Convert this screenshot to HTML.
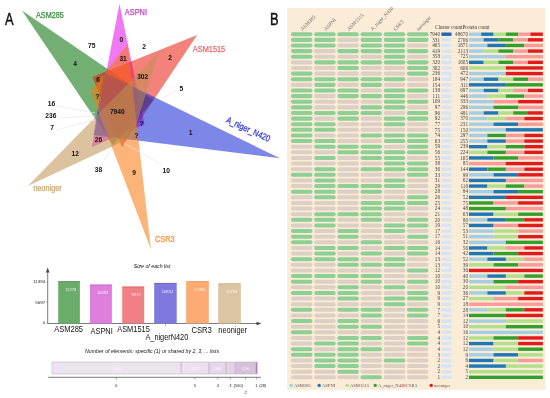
<!DOCTYPE html>
<html><head><meta charset="utf-8"><style>
html,body{margin:0;padding:0;background:#fff;}
body{width:550px;height:398px;overflow:hidden;}
svg{display:block;filter:blur(0.35px);}
text{font-family:"Liberation Sans",sans-serif;}
.cl{font-family:"Liberation Serif",serif;font-size:5.2px;fill:#6b6460;}
.hd{font-family:"Liberation Serif",serif;font-size:5.05px;fill:#3d3a38;}
.nm{font-family:"Liberation Serif",serif;font-size:5.2px;fill:#45403d;text-anchor:end;}
.lg{font-family:"Liberation Serif",serif;font-size:4.6px;fill:#5e5754;}
.vn{font-size:7.3px;font-weight:bold;fill:#111;text-anchor:middle;}
.vl{font-size:8.2px;stroke-width:0.25px;paint-order:stroke;}
.ti{font-size:5.9px;font-style:italic;fill:#111;text-anchor:middle;}
.tk{font-size:4.4px;fill:#222;text-anchor:end;}
.bv{font-size:4.1px;fill:#fff;fill-opacity:0.85;text-anchor:end;}
.xl{font-size:8.4px;fill:#111;text-anchor:middle;}
.sv{font-size:3.6px;fill:#fff;text-anchor:middle;}
.bl{font-size:4px;fill:#222;text-anchor:middle;}
.pl{font-size:16.9px;fill:#111;stroke:#111;stroke-width:0.45px;stroke-linejoin:round;}
</style></head>
<body><svg width="550" height="398" viewBox="0 0 550 398">
<rect width="550" height="398" fill="#fff"/>
<text x="5.0" y="24.8" class="pl" textLength="8.6" lengthAdjust="spacingAndGlyphs">A</text>
<text x="269.9" y="24.5" class="pl" textLength="8.6" lengthAdjust="spacingAndGlyphs">B</text>
<polygon points="21.9,10.6 113,145 153.4,100.2" fill="rgb(0,110,0)" fill-opacity="0.55"/>
<polygon points="119.5,3.8 91.8,147 144.5,124.5" fill="rgb(228,10,228)" fill-opacity="0.55"/>
<polygon points="197.2,35 92.3,77 122,147" fill="rgb(231,28,13)" fill-opacity="0.55"/>
<polygon points="280,158.3 103.8,72.4 93.6,135" fill="rgb(19,37,213)" fill-opacity="0.55"/>
<polygon points="151,249.6 90.5,91 127.6,44.6" fill="rgb(250,119,10)" fill-opacity="0.55"/>
<polygon points="27.8,186.1 158.6,52.6 132.5,137" fill="rgb(191,146,82)" fill-opacity="0.55"/>
<line x1="94" y1="50" x2="108" y2="66" stroke="#e6e6e6" stroke-width="0.7"/>
<line x1="141" y1="49" x2="133" y2="61" stroke="#e6e6e6" stroke-width="0.7"/>
<line x1="176" y1="90.5" x2="161.5" y2="99" stroke="#e6e6e6" stroke-width="0.7"/>
<line x1="56" y1="106" x2="95" y2="113" stroke="#e6e6e6" stroke-width="0.7"/>
<line x1="57" y1="118" x2="95" y2="116" stroke="#e6e6e6" stroke-width="0.7"/>
<line x1="56" y1="130" x2="95" y2="120" stroke="#e6e6e6" stroke-width="0.7"/>
<line x1="101" y1="165" x2="112" y2="149" stroke="#e6e6e6" stroke-width="0.7"/>
<line x1="162" y1="165" x2="124" y2="143" stroke="#e6e6e6" stroke-width="0.7"/>
<text x="91.8" y="48.4" class="vn" textLength="7.4" lengthAdjust="spacingAndGlyphs">75</text>
<text x="75" y="65.7" class="vn" textLength="3.7" lengthAdjust="spacingAndGlyphs">4</text>
<text x="121.4" y="42.2" class="vn" textLength="3.7" lengthAdjust="spacingAndGlyphs">0</text>
<text x="144" y="48.5" class="vn" textLength="3.7" lengthAdjust="spacingAndGlyphs">2</text>
<text x="123.1" y="61.1" class="vn" textLength="7.4" lengthAdjust="spacingAndGlyphs">31</text>
<text x="170.2" y="60.1" class="vn" textLength="3.7" lengthAdjust="spacingAndGlyphs">2</text>
<text x="142.7" y="79.4" class="vn" textLength="11.1" lengthAdjust="spacingAndGlyphs">302</text>
<text x="98.2" y="81.5" class="vn" textLength="3.7" lengthAdjust="spacingAndGlyphs">6</text>
<text x="97.4" y="98.8" class="vn">?</text>
<text x="117.3" y="114.4" class="vn" textLength="14.8" lengthAdjust="spacingAndGlyphs">7940</text>
<text x="181.3" y="91.3" class="vn" textLength="3.7" lengthAdjust="spacingAndGlyphs">5</text>
<text x="51.5" y="106.3" class="vn" textLength="7.4" lengthAdjust="spacingAndGlyphs">16</text>
<text x="50.9" y="118.1" class="vn" textLength="11.1" lengthAdjust="spacingAndGlyphs">236</text>
<text x="52.2" y="129.8" class="vn" textLength="3.7" lengthAdjust="spacingAndGlyphs">7</text>
<text x="141.8" y="125.5" class="vn">?</text>
<text x="136.5" y="137.6" class="vn">?</text>
<text x="190.5" y="134.9" class="vn" textLength="3.7" lengthAdjust="spacingAndGlyphs">1</text>
<text x="98.5" y="142.3" class="vn" textLength="7.4" lengthAdjust="spacingAndGlyphs">26</text>
<text x="75.3" y="155.8" class="vn" textLength="7.4" lengthAdjust="spacingAndGlyphs">12</text>
<text x="98.5" y="171.9" class="vn" textLength="7.4" lengthAdjust="spacingAndGlyphs">38</text>
<text x="134" y="174.6" class="vn" textLength="3.7" lengthAdjust="spacingAndGlyphs">9</text>
<text x="166.3" y="172.5" class="vn" textLength="7.4" lengthAdjust="spacingAndGlyphs">10</text>
<text x="36.0" y="17.8" class="vl" fill="#3c8d3c" stroke="#3c8d3c" textLength="27.9" lengthAdjust="spacingAndGlyphs">ASM285</text>
<text x="124.8" y="15.1" class="vl" fill="#c53fc5" stroke="#c53fc5" textLength="22.2" lengthAdjust="spacingAndGlyphs">ASPNI</text>
<text x="192.8" y="51.8" class="vl" fill="#ea6a72" stroke="#ea6a72" textLength="32.4" lengthAdjust="spacingAndGlyphs">ASM1515</text>
<text x="33.2" y="191.2" class="vl" fill="#c9a86e" stroke="#c9a86e" textLength="28.6" lengthAdjust="spacingAndGlyphs">neoniger</text>
<text x="154.9" y="242" class="vl" fill="#f98f3c" stroke="#f98f3c" textLength="19.7" lengthAdjust="spacingAndGlyphs">CSR3</text>
<text x="225.4" y="122.0" class="vl" fill="#2b36d6" stroke="#2b36d6" style="font-size:9px" textLength="47.5" lengthAdjust="spacingAndGlyphs" transform="rotate(25 225.4 122.0)">A_niger_N420</text>
<text x="152.1" y="267.8" class="ti" textLength="36.6" lengthAdjust="spacingAndGlyphs">Size of each list</text>
<line x1="47.7" y1="271" x2="47.7" y2="323.5" stroke="#444" stroke-width="0.7"/>
<polygon points="45.9,272.5 49.5,272.5 47.7,267.6" fill="#444"/>
<line x1="47.7" y1="323.5" x2="257" y2="323.5" stroke="#444" stroke-width="0.7"/>
<polygon points="256.5,321.7 256.5,325.3 261.5,323.5" fill="#444"/>
<text x="45.1" y="283.0" class="tk">11394</text>
<line x1="46.7" y1="281.7" x2="47.7" y2="281.7" stroke="#444" stroke-width="0.5"/>
<text x="45.1" y="303.6" class="tk">5697</text>
<line x1="46.7" y1="302.3" x2="47.7" y2="302.3" stroke="#444" stroke-width="0.5"/>
<text x="45.1" y="324.3" class="tk">0</text>
<line x1="46.7" y1="323" x2="47.7" y2="323" stroke="#444" stroke-width="0.5"/>
<rect x="58.2" y="281.3" width="21.7" height="42.2" fill="#6aad6a"/>
<line x1="58.2" y1="281.6" x2="79.9" y2="281.6" stroke="#4e8f4e" stroke-width="0.8"/>
<text x="76.4" y="290.90000000000003" class="bv">11278</text>
<rect x="90" y="284.7" width="21.9" height="38.8" fill="#de7fde"/>
<line x1="90" y1="285.0" x2="111.9" y2="285.0" stroke="#c763c7" stroke-width="0.8"/>
<text x="108.4" y="294.3" class="bv">10493</text>
<rect x="122.2" y="286.7" width="22.0" height="36.8" fill="#f17f86"/>
<line x1="122.2" y1="287.0" x2="144.2" y2="287.0" stroke="#e06068" stroke-width="0.8"/>
<text x="140.7" y="296.3" class="bv">9917</text>
<rect x="154.2" y="283.1" width="22.5" height="40.4" fill="#7f78df"/>
<line x1="154.2" y1="283.40000000000003" x2="176.7" y2="283.40000000000003" stroke="#6660cc" stroke-width="0.8"/>
<text x="173.2" y="292.70000000000005" class="bv">10852</text>
<rect x="186.1" y="281.2" width="22.7" height="42.3" fill="#fcac72"/>
<line x1="186.1" y1="281.5" x2="208.8" y2="281.5" stroke="#f59a5a" stroke-width="0.8"/>
<text x="205.3" y="290.8" class="bv">11394</text>
<rect x="218.2" y="283.5" width="22.6" height="40.0" fill="#dcc5a2"/>
<line x1="218.2" y1="283.8" x2="240.8" y2="283.8" stroke="#c9b08a" stroke-width="0.8"/>
<text x="237.3" y="293.1" class="bv">10759</text>
<text x="68.6" y="332.4" class="xl" textLength="28.8" lengthAdjust="spacingAndGlyphs">ASM285</text>
<text x="101.65" y="334" class="xl" textLength="22.3" lengthAdjust="spacingAndGlyphs">ASPNI</text>
<text x="133.5" y="332.2" class="xl" textLength="32.6" lengthAdjust="spacingAndGlyphs">ASM1515</text>
<text x="166.85" y="340.1" class="xl" textLength="42.9" lengthAdjust="spacingAndGlyphs">A_nigerN420</text>
<text x="201.65" y="332.8" class="xl" textLength="20.5" lengthAdjust="spacingAndGlyphs">CSR3</text>
<text x="232.7" y="333.4" class="xl" textLength="28.8" lengthAdjust="spacingAndGlyphs">neoniger</text>
<line x1="165.5" y1="323.5" x2="165.5" y2="326" stroke="#666" stroke-width="0.5"/>
<text x="152.05" y="352.9" class="ti" textLength="134" lengthAdjust="spacingAndGlyphs">Number of elements: specific (1) or shared by 2, 3, ... lists</text>
<rect x="52" y="362" width="128.9" height="12" fill="#eee4ef" stroke="#b9a9bb" stroke-width="0.5"/>
<text x="116.5" y="369.5" class="sv">7940</text>
<rect x="181.5" y="362" width="27.2" height="12" fill="#ecdfee" stroke="#b9a9bb" stroke-width="0.5"/>
<text x="195.1" y="369.5" class="sv">1577</text>
<rect x="209.3" y="362" width="16.5" height="12" fill="#e6d6e9" stroke="#b9a9bb" stroke-width="0.5"/>
<text x="217.6" y="369.5" class="sv">1366</text>
<rect x="226.4" y="362" width="8.2" height="12" fill="#e3d2e7" stroke="#b9a9bb" stroke-width="0.5"/>
<rect x="235.2" y="362" width="20.8" height="12" fill="#d6c0da" stroke="#b9a9bb" stroke-width="0.5"/>
<text x="245.6" y="369.5" class="sv">1290</text>
<rect x="256.0" y="362" width="1.2" height="12" fill="#9c7aa4" stroke="#b9a9bb" stroke-width="0.5"/>
<line x1="48.3" y1="377.3" x2="260.8" y2="377.3" stroke="#555" stroke-width="0.8"/>
<line x1="116.4" y1="377.3" x2="116.4" y2="379.5" stroke="#555" stroke-width="0.5"/>
<line x1="194.9" y1="377.3" x2="194.9" y2="379.5" stroke="#555" stroke-width="0.5"/>
<line x1="217.8" y1="377.3" x2="217.8" y2="379.5" stroke="#555" stroke-width="0.5"/>
<line x1="230.3" y1="377.3" x2="230.3" y2="379.5" stroke="#555" stroke-width="0.5"/>
<line x1="245.5" y1="377.3" x2="245.5" y2="379.5" stroke="#555" stroke-width="0.5"/>
<line x1="256.4" y1="377.3" x2="256.4" y2="379.5" stroke="#555" stroke-width="0.5"/>
<text x="116.4" y="387" class="bl">6</text>
<text x="194.9" y="387" class="bl">5</text>
<text x="217.8" y="387" class="bl">4</text>
<text x="230.3" y="387" class="bl">3</text>
<text x="238.3" y="387" class="bl">(560)</text>
<text x="256.4" y="387" class="bl">1</text>
<text x="262.8" y="387" class="bl">(28)</text>
<text x="245.5" y="393.6" class="bl">2</text>
<rect x="287" y="8" width="258.2" height="381.8" fill="#fbecd8"/>
<text x="302.6" y="31.1" transform="rotate(-46 302.6 31.1)" class="cl">ASM285</text>
<text x="325.8" y="31.1" transform="rotate(-46 325.8 31.1)" class="cl">ASPNI</text>
<text x="349.0" y="31.1" transform="rotate(-46 349.0 31.1)" class="cl">ASM1515</text>
<text x="372.2" y="31.1" transform="rotate(-46 372.2 31.1)" class="cl">A_niger_N420</text>
<text x="395.4" y="31.1" transform="rotate(-46 395.4 31.1)" class="cl">CSR3</text>
<text x="418.6" y="31.1" transform="rotate(-46 418.6 31.1)" class="cl">neoniger</text>
<text x="435.3" y="29.1" class="hd">Cluster count</text>
<text x="462.4" y="29.1" class="hd">Protein count</text>
<rect x="290.9" y="32.15" width="21.6" height="4.1" rx="2.05" fill="#8dcf94"/>
<rect x="314.1" y="32.15" width="21.6" height="4.1" rx="2.05" fill="#8dcf94"/>
<rect x="337.3" y="32.15" width="21.6" height="4.1" rx="2.05" fill="#8dcf94"/>
<rect x="360.5" y="32.15" width="21.6" height="4.1" rx="2.05" fill="#8dcf94"/>
<rect x="383.7" y="32.15" width="21.6" height="4.1" rx="2.05" fill="#8dcf94"/>
<rect x="406.9" y="32.15" width="21.6" height="4.1" rx="2.05" fill="#8dcf94"/>
<text x="440.0" y="35.90" class="nm">7940</text>
<rect x="441.4" y="32.50" width="10.1" height="3.4" fill="#1f66b0"/>
<text x="468.0" y="35.90" class="nm">48670</text>
<rect x="468.90" y="32.50" width="12.37" height="3.4" fill="#a6cee3"/>
<rect x="481.22" y="32.50" width="12.37" height="3.4" fill="#1f78b4"/>
<rect x="493.53" y="32.50" width="12.37" height="3.4" fill="#b2df8a"/>
<rect x="505.85" y="32.50" width="12.37" height="3.4" fill="#33a02c"/>
<rect x="518.17" y="32.50" width="12.37" height="3.4" fill="#fb9a99"/>
<rect x="530.48" y="32.50" width="12.37" height="3.4" fill="#e31a1c"/>
<rect x="290.9" y="37.78" width="21.6" height="4.1" rx="2.05" fill="#8dcf94"/>
<rect x="314.1" y="37.78" width="21.6" height="4.1" rx="2.05" fill="#8dcf94"/>
<rect x="337.3" y="37.78" width="21.6" height="4.1" rx="2.05" fill="#ddcfc4"/>
<rect x="360.5" y="37.78" width="21.6" height="4.1" rx="2.05" fill="#8dcf94"/>
<rect x="383.7" y="37.78" width="21.6" height="4.1" rx="2.05" fill="#8dcf94"/>
<rect x="406.9" y="37.78" width="21.6" height="4.1" rx="2.05" fill="#8dcf94"/>
<text x="440.0" y="41.53" class="nm">331</text>
<rect x="441.4" y="38.12" width="10.1" height="3.4" fill="#d3e5f7"/>
<text x="468.0" y="41.53" class="nm">2706</text>
<rect x="468.90" y="38.12" width="14.83" height="3.4" fill="#a6cee3"/>
<rect x="483.68" y="38.12" width="14.83" height="3.4" fill="#1f78b4"/>
<rect x="498.46" y="38.12" width="14.83" height="3.4" fill="#33a02c"/>
<rect x="513.24" y="38.12" width="14.83" height="3.4" fill="#fb9a99"/>
<rect x="528.02" y="38.12" width="14.83" height="3.4" fill="#e31a1c"/>
<rect x="290.9" y="43.40" width="21.6" height="4.1" rx="2.05" fill="#8dcf94"/>
<rect x="314.1" y="43.40" width="21.6" height="4.1" rx="2.05" fill="#8dcf94"/>
<rect x="337.3" y="43.40" width="21.6" height="4.1" rx="2.05" fill="#ddcfc4"/>
<rect x="360.5" y="43.40" width="21.6" height="4.1" rx="2.05" fill="#8dcf94"/>
<rect x="383.7" y="43.40" width="21.6" height="4.1" rx="2.05" fill="#8dcf94"/>
<rect x="406.9" y="43.40" width="21.6" height="4.1" rx="2.05" fill="#ddcfc4"/>
<text x="440.0" y="47.15" class="nm">465</text>
<rect x="441.4" y="43.75" width="10.1" height="3.4" fill="#d3e5f7"/>
<text x="468.0" y="47.15" class="nm">1871</text>
<rect x="468.90" y="43.75" width="18.53" height="3.4" fill="#a6cee3"/>
<rect x="487.38" y="43.75" width="18.52" height="3.4" fill="#1f78b4"/>
<rect x="505.85" y="43.75" width="18.52" height="3.4" fill="#33a02c"/>
<rect x="524.32" y="43.75" width="18.53" height="3.4" fill="#fb9a99"/>
<rect x="290.9" y="49.03" width="21.6" height="4.1" rx="2.05" fill="#8dcf94"/>
<rect x="314.1" y="49.03" width="21.6" height="4.1" rx="2.05" fill="#ddcfc4"/>
<rect x="337.3" y="49.03" width="21.6" height="4.1" rx="2.05" fill="#8dcf94"/>
<rect x="360.5" y="49.03" width="21.6" height="4.1" rx="2.05" fill="#8dcf94"/>
<rect x="383.7" y="49.03" width="21.6" height="4.1" rx="2.05" fill="#8dcf94"/>
<rect x="406.9" y="49.03" width="21.6" height="4.1" rx="2.05" fill="#8dcf94"/>
<text x="440.0" y="52.78" class="nm">419</text>
<rect x="441.4" y="49.38" width="10.1" height="3.4" fill="#d3e5f7"/>
<text x="468.0" y="52.78" class="nm">2113</text>
<rect x="468.90" y="49.38" width="14.83" height="3.4" fill="#a6cee3"/>
<rect x="483.68" y="49.38" width="14.83" height="3.4" fill="#b2df8a"/>
<rect x="498.46" y="49.38" width="14.83" height="3.4" fill="#33a02c"/>
<rect x="513.24" y="49.38" width="14.83" height="3.4" fill="#fb9a99"/>
<rect x="528.02" y="49.38" width="14.83" height="3.4" fill="#e31a1c"/>
<rect x="290.9" y="54.65" width="21.6" height="4.1" rx="2.05" fill="#8dcf94"/>
<rect x="314.1" y="54.65" width="21.6" height="4.1" rx="2.05" fill="#ddcfc4"/>
<rect x="337.3" y="54.65" width="21.6" height="4.1" rx="2.05" fill="#ddcfc4"/>
<rect x="360.5" y="54.65" width="21.6" height="4.1" rx="2.05" fill="#ddcfc4"/>
<rect x="383.7" y="54.65" width="21.6" height="4.1" rx="2.05" fill="#8dcf94"/>
<rect x="406.9" y="54.65" width="21.6" height="4.1" rx="2.05" fill="#ddcfc4"/>
<text x="440.0" y="58.40" class="nm">358</text>
<rect x="441.4" y="55.00" width="10.1" height="3.4" fill="#d3e5f7"/>
<text x="468.0" y="58.40" class="nm">725</text>
<rect x="468.90" y="55.00" width="37.00" height="3.4" fill="#a6cee3"/>
<rect x="505.85" y="55.00" width="37.00" height="3.4" fill="#fb9a99"/>
<rect x="290.9" y="60.28" width="21.6" height="4.1" rx="2.05" fill="#ddcfc4"/>
<rect x="314.1" y="60.28" width="21.6" height="4.1" rx="2.05" fill="#8dcf94"/>
<rect x="337.3" y="60.28" width="21.6" height="4.1" rx="2.05" fill="#8dcf94"/>
<rect x="360.5" y="60.28" width="21.6" height="4.1" rx="2.05" fill="#8dcf94"/>
<rect x="383.7" y="60.28" width="21.6" height="4.1" rx="2.05" fill="#8dcf94"/>
<rect x="406.9" y="60.28" width="21.6" height="4.1" rx="2.05" fill="#8dcf94"/>
<text x="440.0" y="64.03" class="nm">320</text>
<rect x="441.4" y="60.62" width="10.1" height="3.4" fill="#d3e5f7"/>
<text x="468.0" y="64.03" class="nm">1605</text>
<rect x="468.90" y="60.62" width="14.83" height="3.4" fill="#1f78b4"/>
<rect x="483.68" y="60.62" width="14.83" height="3.4" fill="#b2df8a"/>
<rect x="498.46" y="60.62" width="14.83" height="3.4" fill="#33a02c"/>
<rect x="513.24" y="60.62" width="14.83" height="3.4" fill="#fb9a99"/>
<rect x="528.02" y="60.62" width="14.83" height="3.4" fill="#e31a1c"/>
<rect x="290.9" y="65.90" width="21.6" height="4.1" rx="2.05" fill="#ddcfc4"/>
<rect x="314.1" y="65.90" width="21.6" height="4.1" rx="2.05" fill="#ddcfc4"/>
<rect x="337.3" y="65.90" width="21.6" height="4.1" rx="2.05" fill="#8dcf94"/>
<rect x="360.5" y="65.90" width="21.6" height="4.1" rx="2.05" fill="#ddcfc4"/>
<rect x="383.7" y="65.90" width="21.6" height="4.1" rx="2.05" fill="#ddcfc4"/>
<rect x="406.9" y="65.90" width="21.6" height="4.1" rx="2.05" fill="#8dcf94"/>
<text x="440.0" y="69.65" class="nm">302</text>
<rect x="441.4" y="66.25" width="10.1" height="3.4" fill="#d3e5f7"/>
<text x="468.0" y="69.65" class="nm">606</text>
<rect x="468.90" y="66.25" width="37.00" height="3.4" fill="#b2df8a"/>
<rect x="505.85" y="66.25" width="37.00" height="3.4" fill="#e31a1c"/>
<rect x="290.9" y="71.53" width="21.6" height="4.1" rx="2.05" fill="#8dcf94"/>
<rect x="314.1" y="71.53" width="21.6" height="4.1" rx="2.05" fill="#ddcfc4"/>
<rect x="337.3" y="71.53" width="21.6" height="4.1" rx="2.05" fill="#ddcfc4"/>
<rect x="360.5" y="71.53" width="21.6" height="4.1" rx="2.05" fill="#ddcfc4"/>
<rect x="383.7" y="71.53" width="21.6" height="4.1" rx="2.05" fill="#ddcfc4"/>
<rect x="406.9" y="71.53" width="21.6" height="4.1" rx="2.05" fill="#8dcf94"/>
<text x="440.0" y="75.28" class="nm">236</text>
<rect x="441.4" y="71.88" width="10.1" height="3.4" fill="#d3e5f7"/>
<text x="468.0" y="75.28" class="nm">472</text>
<rect x="468.90" y="71.88" width="37.00" height="3.4" fill="#a6cee3"/>
<rect x="505.85" y="71.88" width="37.00" height="3.4" fill="#e31a1c"/>
<rect x="290.9" y="77.15" width="21.6" height="4.1" rx="2.05" fill="#8dcf94"/>
<rect x="314.1" y="77.15" width="21.6" height="4.1" rx="2.05" fill="#8dcf94"/>
<rect x="337.3" y="77.15" width="21.6" height="4.1" rx="2.05" fill="#8dcf94"/>
<rect x="360.5" y="77.15" width="21.6" height="4.1" rx="2.05" fill="#8dcf94"/>
<rect x="383.7" y="77.15" width="21.6" height="4.1" rx="2.05" fill="#8dcf94"/>
<rect x="406.9" y="77.15" width="21.6" height="4.1" rx="2.05" fill="#ddcfc4"/>
<text x="440.0" y="80.90" class="nm">184</text>
<rect x="441.4" y="77.50" width="10.1" height="3.4" fill="#d3e5f7"/>
<text x="468.0" y="80.90" class="nm">947</text>
<rect x="468.90" y="77.50" width="14.83" height="3.4" fill="#a6cee3"/>
<rect x="483.68" y="77.50" width="14.83" height="3.4" fill="#1f78b4"/>
<rect x="498.46" y="77.50" width="14.83" height="3.4" fill="#b2df8a"/>
<rect x="513.24" y="77.50" width="14.83" height="3.4" fill="#33a02c"/>
<rect x="528.02" y="77.50" width="14.83" height="3.4" fill="#fb9a99"/>
<rect x="290.9" y="82.78" width="21.6" height="4.1" rx="2.05" fill="#ddcfc4"/>
<rect x="314.1" y="82.78" width="21.6" height="4.1" rx="2.05" fill="#8dcf94"/>
<rect x="337.3" y="82.78" width="21.6" height="4.1" rx="2.05" fill="#ddcfc4"/>
<rect x="360.5" y="82.78" width="21.6" height="4.1" rx="2.05" fill="#8dcf94"/>
<rect x="383.7" y="82.78" width="21.6" height="4.1" rx="2.05" fill="#ddcfc4"/>
<rect x="406.9" y="82.78" width="21.6" height="4.1" rx="2.05" fill="#ddcfc4"/>
<text x="440.0" y="86.53" class="nm">154</text>
<rect x="441.4" y="83.12" width="10.1" height="3.4" fill="#d3e5f7"/>
<text x="468.0" y="86.53" class="nm">311</text>
<rect x="468.90" y="83.12" width="37.00" height="3.4" fill="#1f78b4"/>
<rect x="505.85" y="83.12" width="37.00" height="3.4" fill="#33a02c"/>
<rect x="290.9" y="88.40" width="21.6" height="4.1" rx="2.05" fill="#8dcf94"/>
<rect x="314.1" y="88.40" width="21.6" height="4.1" rx="2.05" fill="#8dcf94"/>
<rect x="337.3" y="88.40" width="21.6" height="4.1" rx="2.05" fill="#8dcf94"/>
<rect x="360.5" y="88.40" width="21.6" height="4.1" rx="2.05" fill="#ddcfc4"/>
<rect x="383.7" y="88.40" width="21.6" height="4.1" rx="2.05" fill="#8dcf94"/>
<rect x="406.9" y="88.40" width="21.6" height="4.1" rx="2.05" fill="#8dcf94"/>
<text x="440.0" y="92.15" class="nm">138</text>
<rect x="441.4" y="88.75" width="10.1" height="3.4" fill="#d3e5f7"/>
<text x="468.0" y="92.15" class="nm">697</text>
<rect x="468.90" y="88.75" width="14.83" height="3.4" fill="#a6cee3"/>
<rect x="483.68" y="88.75" width="14.83" height="3.4" fill="#1f78b4"/>
<rect x="498.46" y="88.75" width="14.83" height="3.4" fill="#b2df8a"/>
<rect x="513.24" y="88.75" width="14.83" height="3.4" fill="#fb9a99"/>
<rect x="528.02" y="88.75" width="14.83" height="3.4" fill="#e31a1c"/>
<rect x="290.9" y="94.03" width="21.6" height="4.1" rx="2.05" fill="#8dcf94"/>
<rect x="314.1" y="94.03" width="21.6" height="4.1" rx="2.05" fill="#ddcfc4"/>
<rect x="337.3" y="94.03" width="21.6" height="4.1" rx="2.05" fill="#8dcf94"/>
<rect x="360.5" y="94.03" width="21.6" height="4.1" rx="2.05" fill="#8dcf94"/>
<rect x="383.7" y="94.03" width="21.6" height="4.1" rx="2.05" fill="#8dcf94"/>
<rect x="406.9" y="94.03" width="21.6" height="4.1" rx="2.05" fill="#ddcfc4"/>
<text x="440.0" y="97.78" class="nm">111</text>
<rect x="441.4" y="94.38" width="10.1" height="3.4" fill="#d3e5f7"/>
<text x="468.0" y="97.78" class="nm">446</text>
<rect x="468.90" y="94.38" width="18.53" height="3.4" fill="#a6cee3"/>
<rect x="487.38" y="94.38" width="18.52" height="3.4" fill="#b2df8a"/>
<rect x="505.85" y="94.38" width="18.52" height="3.4" fill="#33a02c"/>
<rect x="524.32" y="94.38" width="18.53" height="3.4" fill="#fb9a99"/>
<rect x="290.9" y="99.65" width="21.6" height="4.1" rx="2.05" fill="#8dcf94"/>
<rect x="314.1" y="99.65" width="21.6" height="4.1" rx="2.05" fill="#ddcfc4"/>
<rect x="337.3" y="99.65" width="21.6" height="4.1" rx="2.05" fill="#ddcfc4"/>
<rect x="360.5" y="99.65" width="21.6" height="4.1" rx="2.05" fill="#ddcfc4"/>
<rect x="383.7" y="99.65" width="21.6" height="4.1" rx="2.05" fill="#8dcf94"/>
<rect x="406.9" y="99.65" width="21.6" height="4.1" rx="2.05" fill="#8dcf94"/>
<text x="440.0" y="103.40" class="nm">109</text>
<rect x="441.4" y="100.00" width="10.1" height="3.4" fill="#d3e5f7"/>
<text x="468.0" y="103.40" class="nm">333</text>
<rect x="468.90" y="100.00" width="24.68" height="3.4" fill="#a6cee3"/>
<rect x="493.53" y="100.00" width="24.68" height="3.4" fill="#fb9a99"/>
<rect x="518.17" y="100.00" width="24.68" height="3.4" fill="#e31a1c"/>
<rect x="290.9" y="105.28" width="21.6" height="4.1" rx="2.05" fill="#8dcf94"/>
<rect x="314.1" y="105.28" width="21.6" height="4.1" rx="2.05" fill="#ddcfc4"/>
<rect x="337.3" y="105.28" width="21.6" height="4.1" rx="2.05" fill="#ddcfc4"/>
<rect x="360.5" y="105.28" width="21.6" height="4.1" rx="2.05" fill="#8dcf94"/>
<rect x="383.7" y="105.28" width="21.6" height="4.1" rx="2.05" fill="#8dcf94"/>
<rect x="406.9" y="105.28" width="21.6" height="4.1" rx="2.05" fill="#ddcfc4"/>
<text x="440.0" y="109.03" class="nm">97</text>
<rect x="441.4" y="105.62" width="10.1" height="3.4" fill="#d3e5f7"/>
<text x="468.0" y="109.03" class="nm">296</text>
<rect x="468.90" y="105.62" width="24.68" height="3.4" fill="#a6cee3"/>
<rect x="493.53" y="105.62" width="24.68" height="3.4" fill="#33a02c"/>
<rect x="518.17" y="105.62" width="24.68" height="3.4" fill="#fb9a99"/>
<rect x="290.9" y="110.90" width="21.6" height="4.1" rx="2.05" fill="#8dcf94"/>
<rect x="314.1" y="110.90" width="21.6" height="4.1" rx="2.05" fill="#8dcf94"/>
<rect x="337.3" y="110.90" width="21.6" height="4.1" rx="2.05" fill="#8dcf94"/>
<rect x="360.5" y="110.90" width="21.6" height="4.1" rx="2.05" fill="#8dcf94"/>
<rect x="383.7" y="110.90" width="21.6" height="4.1" rx="2.05" fill="#ddcfc4"/>
<rect x="406.9" y="110.90" width="21.6" height="4.1" rx="2.05" fill="#8dcf94"/>
<text x="440.0" y="114.65" class="nm">96</text>
<rect x="441.4" y="111.25" width="10.1" height="3.4" fill="#d3e5f7"/>
<text x="468.0" y="114.65" class="nm">481</text>
<rect x="468.90" y="111.25" width="14.83" height="3.4" fill="#a6cee3"/>
<rect x="483.68" y="111.25" width="14.83" height="3.4" fill="#1f78b4"/>
<rect x="498.46" y="111.25" width="14.83" height="3.4" fill="#b2df8a"/>
<rect x="513.24" y="111.25" width="14.83" height="3.4" fill="#33a02c"/>
<rect x="528.02" y="111.25" width="14.83" height="3.4" fill="#e31a1c"/>
<rect x="290.9" y="116.53" width="21.6" height="4.1" rx="2.05" fill="#8dcf94"/>
<rect x="314.1" y="116.53" width="21.6" height="4.1" rx="2.05" fill="#ddcfc4"/>
<rect x="337.3" y="116.53" width="21.6" height="4.1" rx="2.05" fill="#8dcf94"/>
<rect x="360.5" y="116.53" width="21.6" height="4.1" rx="2.05" fill="#ddcfc4"/>
<rect x="383.7" y="116.53" width="21.6" height="4.1" rx="2.05" fill="#8dcf94"/>
<rect x="406.9" y="116.53" width="21.6" height="4.1" rx="2.05" fill="#8dcf94"/>
<text x="440.0" y="120.28" class="nm">92</text>
<rect x="441.4" y="116.88" width="10.1" height="3.4" fill="#d3e5f7"/>
<text x="468.0" y="120.28" class="nm">370</text>
<rect x="468.90" y="116.88" width="18.53" height="3.4" fill="#a6cee3"/>
<rect x="487.38" y="116.88" width="18.52" height="3.4" fill="#b2df8a"/>
<rect x="505.85" y="116.88" width="18.52" height="3.4" fill="#fb9a99"/>
<rect x="524.32" y="116.88" width="18.53" height="3.4" fill="#e31a1c"/>
<rect x="290.9" y="122.15" width="21.6" height="4.1" rx="2.05" fill="#8dcf94"/>
<rect x="314.1" y="122.15" width="21.6" height="4.1" rx="2.05" fill="#8dcf94"/>
<rect x="337.3" y="122.15" width="21.6" height="4.1" rx="2.05" fill="#ddcfc4"/>
<rect x="360.5" y="122.15" width="21.6" height="4.1" rx="2.05" fill="#ddcfc4"/>
<rect x="383.7" y="122.15" width="21.6" height="4.1" rx="2.05" fill="#8dcf94"/>
<rect x="406.9" y="122.15" width="21.6" height="4.1" rx="2.05" fill="#ddcfc4"/>
<text x="440.0" y="125.90" class="nm">77</text>
<rect x="441.4" y="122.50" width="10.1" height="3.4" fill="#d3e5f7"/>
<text x="468.0" y="125.90" class="nm">231</text>
<rect x="468.90" y="122.50" width="24.68" height="3.4" fill="#a6cee3"/>
<rect x="493.53" y="122.50" width="24.68" height="3.4" fill="#1f78b4"/>
<rect x="518.17" y="122.50" width="24.68" height="3.4" fill="#fb9a99"/>
<rect x="290.9" y="127.77" width="21.6" height="4.1" rx="2.05" fill="#8dcf94"/>
<rect x="314.1" y="127.77" width="21.6" height="4.1" rx="2.05" fill="#8dcf94"/>
<rect x="337.3" y="127.77" width="21.6" height="4.1" rx="2.05" fill="#ddcfc4"/>
<rect x="360.5" y="127.77" width="21.6" height="4.1" rx="2.05" fill="#ddcfc4"/>
<rect x="383.7" y="127.77" width="21.6" height="4.1" rx="2.05" fill="#ddcfc4"/>
<rect x="406.9" y="127.77" width="21.6" height="4.1" rx="2.05" fill="#ddcfc4"/>
<text x="440.0" y="131.52" class="nm">75</text>
<rect x="441.4" y="128.12" width="10.1" height="3.4" fill="#d3e5f7"/>
<text x="468.0" y="131.52" class="nm">150</text>
<rect x="468.90" y="128.12" width="37.00" height="3.4" fill="#a6cee3"/>
<rect x="505.85" y="128.12" width="37.00" height="3.4" fill="#1f78b4"/>
<rect x="290.9" y="133.40" width="21.6" height="4.1" rx="2.05" fill="#8dcf94"/>
<rect x="314.1" y="133.40" width="21.6" height="4.1" rx="2.05" fill="#ddcfc4"/>
<rect x="337.3" y="133.40" width="21.6" height="4.1" rx="2.05" fill="#ddcfc4"/>
<rect x="360.5" y="133.40" width="21.6" height="4.1" rx="2.05" fill="#8dcf94"/>
<rect x="383.7" y="133.40" width="21.6" height="4.1" rx="2.05" fill="#8dcf94"/>
<rect x="406.9" y="133.40" width="21.6" height="4.1" rx="2.05" fill="#8dcf94"/>
<text x="440.0" y="137.15" class="nm">74</text>
<rect x="441.4" y="133.75" width="10.1" height="3.4" fill="#d3e5f7"/>
<text x="468.0" y="137.15" class="nm">297</text>
<rect x="468.90" y="133.75" width="18.53" height="3.4" fill="#a6cee3"/>
<rect x="487.38" y="133.75" width="18.52" height="3.4" fill="#33a02c"/>
<rect x="505.85" y="133.75" width="18.52" height="3.4" fill="#fb9a99"/>
<rect x="524.32" y="133.75" width="18.53" height="3.4" fill="#e31a1c"/>
<rect x="290.9" y="139.02" width="21.6" height="4.1" rx="2.05" fill="#8dcf94"/>
<rect x="314.1" y="139.02" width="21.6" height="4.1" rx="2.05" fill="#8dcf94"/>
<rect x="337.3" y="139.02" width="21.6" height="4.1" rx="2.05" fill="#ddcfc4"/>
<rect x="360.5" y="139.02" width="21.6" height="4.1" rx="2.05" fill="#ddcfc4"/>
<rect x="383.7" y="139.02" width="21.6" height="4.1" rx="2.05" fill="#8dcf94"/>
<rect x="406.9" y="139.02" width="21.6" height="4.1" rx="2.05" fill="#8dcf94"/>
<text x="440.0" y="142.77" class="nm">63</text>
<rect x="441.4" y="139.38" width="10.1" height="3.4" fill="#d3e5f7"/>
<text x="468.0" y="142.77" class="nm">255</text>
<rect x="468.90" y="139.38" width="18.53" height="3.4" fill="#a6cee3"/>
<rect x="487.38" y="139.38" width="18.52" height="3.4" fill="#1f78b4"/>
<rect x="505.85" y="139.38" width="18.52" height="3.4" fill="#fb9a99"/>
<rect x="524.32" y="139.38" width="18.53" height="3.4" fill="#e31a1c"/>
<rect x="290.9" y="144.65" width="21.6" height="4.1" rx="2.05" fill="#ddcfc4"/>
<rect x="314.1" y="144.65" width="21.6" height="4.1" rx="2.05" fill="#8dcf94"/>
<rect x="337.3" y="144.65" width="21.6" height="4.1" rx="2.05" fill="#8dcf94"/>
<rect x="360.5" y="144.65" width="21.6" height="4.1" rx="2.05" fill="#8dcf94"/>
<rect x="383.7" y="144.65" width="21.6" height="4.1" rx="2.05" fill="#ddcfc4"/>
<rect x="406.9" y="144.65" width="21.6" height="4.1" rx="2.05" fill="#8dcf94"/>
<text x="440.0" y="148.40" class="nm">59</text>
<rect x="441.4" y="145.00" width="10.1" height="3.4" fill="#d3e5f7"/>
<text x="468.0" y="148.40" class="nm">239</text>
<rect x="468.90" y="145.00" width="18.53" height="3.4" fill="#1f78b4"/>
<rect x="487.38" y="145.00" width="18.52" height="3.4" fill="#b2df8a"/>
<rect x="505.85" y="145.00" width="18.52" height="3.4" fill="#33a02c"/>
<rect x="524.32" y="145.00" width="18.53" height="3.4" fill="#e31a1c"/>
<rect x="290.9" y="150.27" width="21.6" height="4.1" rx="2.05" fill="#ddcfc4"/>
<rect x="314.1" y="150.27" width="21.6" height="4.1" rx="2.05" fill="#ddcfc4"/>
<rect x="337.3" y="150.27" width="21.6" height="4.1" rx="2.05" fill="#8dcf94"/>
<rect x="360.5" y="150.27" width="21.6" height="4.1" rx="2.05" fill="#8dcf94"/>
<rect x="383.7" y="150.27" width="21.6" height="4.1" rx="2.05" fill="#8dcf94"/>
<rect x="406.9" y="150.27" width="21.6" height="4.1" rx="2.05" fill="#8dcf94"/>
<text x="440.0" y="154.02" class="nm">56</text>
<rect x="441.4" y="150.62" width="10.1" height="3.4" fill="#d3e5f7"/>
<text x="468.0" y="154.02" class="nm">224</text>
<rect x="468.90" y="150.62" width="18.53" height="3.4" fill="#b2df8a"/>
<rect x="487.38" y="150.62" width="18.52" height="3.4" fill="#33a02c"/>
<rect x="505.85" y="150.62" width="18.52" height="3.4" fill="#fb9a99"/>
<rect x="524.32" y="150.62" width="18.53" height="3.4" fill="#e31a1c"/>
<rect x="290.9" y="155.90" width="21.6" height="4.1" rx="2.05" fill="#ddcfc4"/>
<rect x="314.1" y="155.90" width="21.6" height="4.1" rx="2.05" fill="#8dcf94"/>
<rect x="337.3" y="155.90" width="21.6" height="4.1" rx="2.05" fill="#ddcfc4"/>
<rect x="360.5" y="155.90" width="21.6" height="4.1" rx="2.05" fill="#8dcf94"/>
<rect x="383.7" y="155.90" width="21.6" height="4.1" rx="2.05" fill="#8dcf94"/>
<rect x="406.9" y="155.90" width="21.6" height="4.1" rx="2.05" fill="#ddcfc4"/>
<text x="440.0" y="159.65" class="nm">55</text>
<rect x="441.4" y="156.25" width="10.1" height="3.4" fill="#d3e5f7"/>
<text x="468.0" y="159.65" class="nm">165</text>
<rect x="468.90" y="156.25" width="24.68" height="3.4" fill="#1f78b4"/>
<rect x="493.53" y="156.25" width="24.68" height="3.4" fill="#33a02c"/>
<rect x="518.17" y="156.25" width="24.68" height="3.4" fill="#fb9a99"/>
<rect x="290.9" y="161.52" width="21.6" height="4.1" rx="2.05" fill="#ddcfc4"/>
<rect x="314.1" y="161.52" width="21.6" height="4.1" rx="2.05" fill="#ddcfc4"/>
<rect x="337.3" y="161.52" width="21.6" height="4.1" rx="2.05" fill="#ddcfc4"/>
<rect x="360.5" y="161.52" width="21.6" height="4.1" rx="2.05" fill="#ddcfc4"/>
<rect x="383.7" y="161.52" width="21.6" height="4.1" rx="2.05" fill="#8dcf94"/>
<rect x="406.9" y="161.52" width="21.6" height="4.1" rx="2.05" fill="#8dcf94"/>
<text x="440.0" y="165.27" class="nm">38</text>
<rect x="441.4" y="161.88" width="10.1" height="3.4" fill="#d3e5f7"/>
<text x="468.0" y="165.27" class="nm">85</text>
<rect x="468.90" y="161.88" width="37.00" height="3.4" fill="#fb9a99"/>
<rect x="505.85" y="161.88" width="37.00" height="3.4" fill="#e31a1c"/>
<rect x="290.9" y="167.15" width="21.6" height="4.1" rx="2.05" fill="#ddcfc4"/>
<rect x="314.1" y="167.15" width="21.6" height="4.1" rx="2.05" fill="#8dcf94"/>
<rect x="337.3" y="167.15" width="21.6" height="4.1" rx="2.05" fill="#ddcfc4"/>
<rect x="360.5" y="167.15" width="21.6" height="4.1" rx="2.05" fill="#8dcf94"/>
<rect x="383.7" y="167.15" width="21.6" height="4.1" rx="2.05" fill="#8dcf94"/>
<rect x="406.9" y="167.15" width="21.6" height="4.1" rx="2.05" fill="#8dcf94"/>
<text x="440.0" y="170.90" class="nm">36</text>
<rect x="441.4" y="167.50" width="10.1" height="3.4" fill="#d3e5f7"/>
<text x="468.0" y="170.90" class="nm">144</text>
<rect x="468.90" y="167.50" width="18.53" height="3.4" fill="#1f78b4"/>
<rect x="487.38" y="167.50" width="18.52" height="3.4" fill="#33a02c"/>
<rect x="505.85" y="167.50" width="18.52" height="3.4" fill="#fb9a99"/>
<rect x="524.32" y="167.50" width="18.53" height="3.4" fill="#e31a1c"/>
<rect x="290.9" y="172.77" width="21.6" height="4.1" rx="2.05" fill="#8dcf94"/>
<rect x="314.1" y="172.77" width="21.6" height="4.1" rx="2.05" fill="#8dcf94"/>
<rect x="337.3" y="172.77" width="21.6" height="4.1" rx="2.05" fill="#ddcfc4"/>
<rect x="360.5" y="172.77" width="21.6" height="4.1" rx="2.05" fill="#ddcfc4"/>
<rect x="383.7" y="172.77" width="21.6" height="4.1" rx="2.05" fill="#ddcfc4"/>
<rect x="406.9" y="172.77" width="21.6" height="4.1" rx="2.05" fill="#8dcf94"/>
<text x="440.0" y="176.52" class="nm">33</text>
<rect x="441.4" y="173.12" width="10.1" height="3.4" fill="#d3e5f7"/>
<text x="468.0" y="176.52" class="nm">99</text>
<rect x="468.90" y="173.12" width="24.68" height="3.4" fill="#a6cee3"/>
<rect x="493.53" y="173.12" width="24.68" height="3.4" fill="#1f78b4"/>
<rect x="518.17" y="173.12" width="24.68" height="3.4" fill="#e31a1c"/>
<rect x="290.9" y="178.40" width="21.6" height="4.1" rx="2.05" fill="#ddcfc4"/>
<rect x="314.1" y="178.40" width="21.6" height="4.1" rx="2.05" fill="#8dcf94"/>
<rect x="337.3" y="178.40" width="21.6" height="4.1" rx="2.05" fill="#ddcfc4"/>
<rect x="360.5" y="178.40" width="21.6" height="4.1" rx="2.05" fill="#ddcfc4"/>
<rect x="383.7" y="178.40" width="21.6" height="4.1" rx="2.05" fill="#8dcf94"/>
<rect x="406.9" y="178.40" width="21.6" height="4.1" rx="2.05" fill="#ddcfc4"/>
<text x="440.0" y="182.15" class="nm">31</text>
<rect x="441.4" y="178.75" width="10.1" height="3.4" fill="#d3e5f7"/>
<text x="468.0" y="182.15" class="nm">62</text>
<rect x="468.90" y="178.75" width="37.00" height="3.4" fill="#1f78b4"/>
<rect x="505.85" y="178.75" width="37.00" height="3.4" fill="#fb9a99"/>
<rect x="290.9" y="184.02" width="21.6" height="4.1" rx="2.05" fill="#ddcfc4"/>
<rect x="314.1" y="184.02" width="21.6" height="4.1" rx="2.05" fill="#8dcf94"/>
<rect x="337.3" y="184.02" width="21.6" height="4.1" rx="2.05" fill="#8dcf94"/>
<rect x="360.5" y="184.02" width="21.6" height="4.1" rx="2.05" fill="#8dcf94"/>
<rect x="383.7" y="184.02" width="21.6" height="4.1" rx="2.05" fill="#8dcf94"/>
<rect x="406.9" y="184.02" width="21.6" height="4.1" rx="2.05" fill="#ddcfc4"/>
<text x="440.0" y="187.77" class="nm">29</text>
<rect x="441.4" y="184.38" width="10.1" height="3.4" fill="#d3e5f7"/>
<text x="468.0" y="187.77" class="nm">116</text>
<rect x="468.90" y="184.38" width="18.53" height="3.4" fill="#1f78b4"/>
<rect x="487.38" y="184.38" width="18.52" height="3.4" fill="#b2df8a"/>
<rect x="505.85" y="184.38" width="18.52" height="3.4" fill="#33a02c"/>
<rect x="524.32" y="184.38" width="18.53" height="3.4" fill="#fb9a99"/>
<rect x="290.9" y="189.65" width="21.6" height="4.1" rx="2.05" fill="#8dcf94"/>
<rect x="314.1" y="189.65" width="21.6" height="4.1" rx="2.05" fill="#8dcf94"/>
<rect x="337.3" y="189.65" width="21.6" height="4.1" rx="2.05" fill="#ddcfc4"/>
<rect x="360.5" y="189.65" width="21.6" height="4.1" rx="2.05" fill="#8dcf94"/>
<rect x="383.7" y="189.65" width="21.6" height="4.1" rx="2.05" fill="#ddcfc4"/>
<rect x="406.9" y="189.65" width="21.6" height="4.1" rx="2.05" fill="#ddcfc4"/>
<text x="440.0" y="193.40" class="nm">28</text>
<rect x="441.4" y="190.00" width="10.1" height="3.4" fill="#d3e5f7"/>
<text x="468.0" y="193.40" class="nm">84</text>
<rect x="468.90" y="190.00" width="24.68" height="3.4" fill="#a6cee3"/>
<rect x="493.53" y="190.00" width="24.68" height="3.4" fill="#1f78b4"/>
<rect x="518.17" y="190.00" width="24.68" height="3.4" fill="#33a02c"/>
<rect x="290.9" y="195.27" width="21.6" height="4.1" rx="2.05" fill="#ddcfc4"/>
<rect x="314.1" y="195.27" width="21.6" height="4.1" rx="2.05" fill="#8dcf94"/>
<rect x="337.3" y="195.27" width="21.6" height="4.1" rx="2.05" fill="#ddcfc4"/>
<rect x="360.5" y="195.27" width="21.6" height="4.1" rx="2.05" fill="#ddcfc4"/>
<rect x="383.7" y="195.27" width="21.6" height="4.1" rx="2.05" fill="#ddcfc4"/>
<rect x="406.9" y="195.27" width="21.6" height="4.1" rx="2.05" fill="#8dcf94"/>
<text x="440.0" y="199.02" class="nm">26</text>
<rect x="441.4" y="195.62" width="10.1" height="3.4" fill="#d3e5f7"/>
<text x="468.0" y="199.02" class="nm">52</text>
<rect x="468.90" y="195.62" width="37.00" height="3.4" fill="#1f78b4"/>
<rect x="505.85" y="195.62" width="37.00" height="3.4" fill="#e31a1c"/>
<rect x="290.9" y="200.90" width="21.6" height="4.1" rx="2.05" fill="#ddcfc4"/>
<rect x="314.1" y="200.90" width="21.6" height="4.1" rx="2.05" fill="#ddcfc4"/>
<rect x="337.3" y="200.90" width="21.6" height="4.1" rx="2.05" fill="#ddcfc4"/>
<rect x="360.5" y="200.90" width="21.6" height="4.1" rx="2.05" fill="#8dcf94"/>
<rect x="383.7" y="200.90" width="21.6" height="4.1" rx="2.05" fill="#8dcf94"/>
<rect x="406.9" y="200.90" width="21.6" height="4.1" rx="2.05" fill="#8dcf94"/>
<text x="440.0" y="204.65" class="nm">25</text>
<rect x="441.4" y="201.25" width="10.1" height="3.4" fill="#d3e5f7"/>
<text x="468.0" y="204.65" class="nm">75</text>
<rect x="468.90" y="201.25" width="24.68" height="3.4" fill="#33a02c"/>
<rect x="493.53" y="201.25" width="24.68" height="3.4" fill="#fb9a99"/>
<rect x="518.17" y="201.25" width="24.68" height="3.4" fill="#e31a1c"/>
<rect x="290.9" y="206.52" width="21.6" height="4.1" rx="2.05" fill="#ddcfc4"/>
<rect x="314.1" y="206.52" width="21.6" height="4.1" rx="2.05" fill="#ddcfc4"/>
<rect x="337.3" y="206.52" width="21.6" height="4.1" rx="2.05" fill="#ddcfc4"/>
<rect x="360.5" y="206.52" width="21.6" height="4.1" rx="2.05" fill="#8dcf94"/>
<rect x="383.7" y="206.52" width="21.6" height="4.1" rx="2.05" fill="#8dcf94"/>
<rect x="406.9" y="206.52" width="21.6" height="4.1" rx="2.05" fill="#ddcfc4"/>
<text x="440.0" y="210.27" class="nm">24</text>
<rect x="441.4" y="206.88" width="10.1" height="3.4" fill="#d3e5f7"/>
<text x="468.0" y="210.27" class="nm">48</text>
<rect x="468.90" y="206.88" width="37.00" height="3.4" fill="#33a02c"/>
<rect x="505.85" y="206.88" width="37.00" height="3.4" fill="#fb9a99"/>
<rect x="290.9" y="212.15" width="21.6" height="4.1" rx="2.05" fill="#ddcfc4"/>
<rect x="314.1" y="212.15" width="21.6" height="4.1" rx="2.05" fill="#8dcf94"/>
<rect x="337.3" y="212.15" width="21.6" height="4.1" rx="2.05" fill="#8dcf94"/>
<rect x="360.5" y="212.15" width="21.6" height="4.1" rx="2.05" fill="#8dcf94"/>
<rect x="383.7" y="212.15" width="21.6" height="4.1" rx="2.05" fill="#ddcfc4"/>
<rect x="406.9" y="212.15" width="21.6" height="4.1" rx="2.05" fill="#ddcfc4"/>
<text x="440.0" y="215.90" class="nm">21</text>
<rect x="441.4" y="212.50" width="10.1" height="3.4" fill="#d3e5f7"/>
<text x="468.0" y="215.90" class="nm">63</text>
<rect x="468.90" y="212.50" width="24.68" height="3.4" fill="#1f78b4"/>
<rect x="493.53" y="212.50" width="24.68" height="3.4" fill="#b2df8a"/>
<rect x="518.17" y="212.50" width="24.68" height="3.4" fill="#33a02c"/>
<rect x="290.9" y="217.77" width="21.6" height="4.1" rx="2.05" fill="#8dcf94"/>
<rect x="314.1" y="217.77" width="21.6" height="4.1" rx="2.05" fill="#8dcf94"/>
<rect x="337.3" y="217.77" width="21.6" height="4.1" rx="2.05" fill="#ddcfc4"/>
<rect x="360.5" y="217.77" width="21.6" height="4.1" rx="2.05" fill="#8dcf94"/>
<rect x="383.7" y="217.77" width="21.6" height="4.1" rx="2.05" fill="#ddcfc4"/>
<rect x="406.9" y="217.77" width="21.6" height="4.1" rx="2.05" fill="#8dcf94"/>
<text x="440.0" y="221.52" class="nm">20</text>
<rect x="441.4" y="218.12" width="10.1" height="3.4" fill="#d3e5f7"/>
<text x="468.0" y="221.52" class="nm">80</text>
<rect x="468.90" y="218.12" width="18.53" height="3.4" fill="#a6cee3"/>
<rect x="487.38" y="218.12" width="18.52" height="3.4" fill="#1f78b4"/>
<rect x="505.85" y="218.12" width="18.52" height="3.4" fill="#33a02c"/>
<rect x="524.32" y="218.12" width="18.53" height="3.4" fill="#e31a1c"/>
<rect x="290.9" y="223.40" width="21.6" height="4.1" rx="2.05" fill="#ddcfc4"/>
<rect x="314.1" y="223.40" width="21.6" height="4.1" rx="2.05" fill="#8dcf94"/>
<rect x="337.3" y="223.40" width="21.6" height="4.1" rx="2.05" fill="#ddcfc4"/>
<rect x="360.5" y="223.40" width="21.6" height="4.1" rx="2.05" fill="#ddcfc4"/>
<rect x="383.7" y="223.40" width="21.6" height="4.1" rx="2.05" fill="#8dcf94"/>
<rect x="406.9" y="223.40" width="21.6" height="4.1" rx="2.05" fill="#8dcf94"/>
<text x="440.0" y="227.15" class="nm">19</text>
<rect x="441.4" y="223.75" width="10.1" height="3.4" fill="#d3e5f7"/>
<text x="468.0" y="227.15" class="nm">57</text>
<rect x="468.90" y="223.75" width="24.68" height="3.4" fill="#1f78b4"/>
<rect x="493.53" y="223.75" width="24.68" height="3.4" fill="#fb9a99"/>
<rect x="518.17" y="223.75" width="24.68" height="3.4" fill="#e31a1c"/>
<rect x="290.9" y="229.02" width="21.6" height="4.1" rx="2.05" fill="#8dcf94"/>
<rect x="314.1" y="229.02" width="21.6" height="4.1" rx="2.05" fill="#ddcfc4"/>
<rect x="337.3" y="229.02" width="21.6" height="4.1" rx="2.05" fill="#8dcf94"/>
<rect x="360.5" y="229.02" width="21.6" height="4.1" rx="2.05" fill="#ddcfc4"/>
<rect x="383.7" y="229.02" width="21.6" height="4.1" rx="2.05" fill="#8dcf94"/>
<rect x="406.9" y="229.02" width="21.6" height="4.1" rx="2.05" fill="#ddcfc4"/>
<text x="440.0" y="232.77" class="nm">17</text>
<rect x="441.4" y="229.38" width="10.1" height="3.4" fill="#d3e5f7"/>
<text x="468.0" y="232.77" class="nm">53</text>
<rect x="468.90" y="229.38" width="24.68" height="3.4" fill="#a6cee3"/>
<rect x="493.53" y="229.38" width="24.68" height="3.4" fill="#b2df8a"/>
<rect x="518.17" y="229.38" width="24.68" height="3.4" fill="#fb9a99"/>
<rect x="290.9" y="234.65" width="21.6" height="4.1" rx="2.05" fill="#8dcf94"/>
<rect x="314.1" y="234.65" width="21.6" height="4.1" rx="2.05" fill="#ddcfc4"/>
<rect x="337.3" y="234.65" width="21.6" height="4.1" rx="2.05" fill="#8dcf94"/>
<rect x="360.5" y="234.65" width="21.6" height="4.1" rx="2.05" fill="#ddcfc4"/>
<rect x="383.7" y="234.65" width="21.6" height="4.1" rx="2.05" fill="#ddcfc4"/>
<rect x="406.9" y="234.65" width="21.6" height="4.1" rx="2.05" fill="#8dcf94"/>
<text x="440.0" y="238.40" class="nm">17</text>
<rect x="441.4" y="235.00" width="10.1" height="3.4" fill="#d3e5f7"/>
<text x="468.0" y="238.40" class="nm">51</text>
<rect x="468.90" y="235.00" width="24.68" height="3.4" fill="#a6cee3"/>
<rect x="493.53" y="235.00" width="24.68" height="3.4" fill="#b2df8a"/>
<rect x="518.17" y="235.00" width="24.68" height="3.4" fill="#e31a1c"/>
<rect x="290.9" y="240.27" width="21.6" height="4.1" rx="2.05" fill="#8dcf94"/>
<rect x="314.1" y="240.27" width="21.6" height="4.1" rx="2.05" fill="#ddcfc4"/>
<rect x="337.3" y="240.27" width="21.6" height="4.1" rx="2.05" fill="#ddcfc4"/>
<rect x="360.5" y="240.27" width="21.6" height="4.1" rx="2.05" fill="#8dcf94"/>
<rect x="383.7" y="240.27" width="21.6" height="4.1" rx="2.05" fill="#ddcfc4"/>
<rect x="406.9" y="240.27" width="21.6" height="4.1" rx="2.05" fill="#ddcfc4"/>
<text x="440.0" y="244.02" class="nm">16</text>
<rect x="441.4" y="240.62" width="10.1" height="3.4" fill="#d3e5f7"/>
<text x="468.0" y="244.02" class="nm">32</text>
<rect x="468.90" y="240.62" width="37.00" height="3.4" fill="#a6cee3"/>
<rect x="505.85" y="240.62" width="37.00" height="3.4" fill="#33a02c"/>
<rect x="290.9" y="245.90" width="21.6" height="4.1" rx="2.05" fill="#ddcfc4"/>
<rect x="314.1" y="245.90" width="21.6" height="4.1" rx="2.05" fill="#8dcf94"/>
<rect x="337.3" y="245.90" width="21.6" height="4.1" rx="2.05" fill="#8dcf94"/>
<rect x="360.5" y="245.90" width="21.6" height="4.1" rx="2.05" fill="#ddcfc4"/>
<rect x="383.7" y="245.90" width="21.6" height="4.1" rx="2.05" fill="#8dcf94"/>
<rect x="406.9" y="245.90" width="21.6" height="4.1" rx="2.05" fill="#8dcf94"/>
<text x="440.0" y="249.65" class="nm">14</text>
<rect x="441.4" y="246.25" width="10.1" height="3.4" fill="#d3e5f7"/>
<text x="468.0" y="249.65" class="nm">56</text>
<rect x="468.90" y="246.25" width="18.53" height="3.4" fill="#1f78b4"/>
<rect x="487.38" y="246.25" width="18.52" height="3.4" fill="#b2df8a"/>
<rect x="505.85" y="246.25" width="18.52" height="3.4" fill="#fb9a99"/>
<rect x="524.32" y="246.25" width="18.53" height="3.4" fill="#e31a1c"/>
<rect x="290.9" y="251.52" width="21.6" height="4.1" rx="2.05" fill="#ddcfc4"/>
<rect x="314.1" y="251.52" width="21.6" height="4.1" rx="2.05" fill="#8dcf94"/>
<rect x="337.3" y="251.52" width="21.6" height="4.1" rx="2.05" fill="#ddcfc4"/>
<rect x="360.5" y="251.52" width="21.6" height="4.1" rx="2.05" fill="#8dcf94"/>
<rect x="383.7" y="251.52" width="21.6" height="4.1" rx="2.05" fill="#ddcfc4"/>
<rect x="406.9" y="251.52" width="21.6" height="4.1" rx="2.05" fill="#8dcf94"/>
<text x="440.0" y="255.27" class="nm">14</text>
<rect x="441.4" y="251.88" width="10.1" height="3.4" fill="#d3e5f7"/>
<text x="468.0" y="255.27" class="nm">42</text>
<rect x="468.90" y="251.88" width="24.68" height="3.4" fill="#1f78b4"/>
<rect x="493.53" y="251.88" width="24.68" height="3.4" fill="#33a02c"/>
<rect x="518.17" y="251.88" width="24.68" height="3.4" fill="#e31a1c"/>
<rect x="290.9" y="257.15" width="21.6" height="4.1" rx="2.05" fill="#8dcf94"/>
<rect x="314.1" y="257.15" width="21.6" height="4.1" rx="2.05" fill="#8dcf94"/>
<rect x="337.3" y="257.15" width="21.6" height="4.1" rx="2.05" fill="#8dcf94"/>
<rect x="360.5" y="257.15" width="21.6" height="4.1" rx="2.05" fill="#ddcfc4"/>
<rect x="383.7" y="257.15" width="21.6" height="4.1" rx="2.05" fill="#8dcf94"/>
<rect x="406.9" y="257.15" width="21.6" height="4.1" rx="2.05" fill="#ddcfc4"/>
<text x="440.0" y="260.90" class="nm">13</text>
<rect x="441.4" y="257.50" width="10.1" height="3.4" fill="#d3e5f7"/>
<text x="468.0" y="260.90" class="nm">52</text>
<rect x="468.90" y="257.50" width="18.53" height="3.4" fill="#a6cee3"/>
<rect x="487.38" y="257.50" width="18.52" height="3.4" fill="#1f78b4"/>
<rect x="505.85" y="257.50" width="18.52" height="3.4" fill="#b2df8a"/>
<rect x="524.32" y="257.50" width="18.53" height="3.4" fill="#fb9a99"/>
<rect x="290.9" y="262.77" width="21.6" height="4.1" rx="2.05" fill="#ddcfc4"/>
<rect x="314.1" y="262.77" width="21.6" height="4.1" rx="2.05" fill="#ddcfc4"/>
<rect x="337.3" y="262.77" width="21.6" height="4.1" rx="2.05" fill="#8dcf94"/>
<rect x="360.5" y="262.77" width="21.6" height="4.1" rx="2.05" fill="#8dcf94"/>
<rect x="383.7" y="262.77" width="21.6" height="4.1" rx="2.05" fill="#8dcf94"/>
<rect x="406.9" y="262.77" width="21.6" height="4.1" rx="2.05" fill="#ddcfc4"/>
<text x="440.0" y="266.52" class="nm">13</text>
<rect x="441.4" y="263.12" width="10.1" height="3.4" fill="#d3e5f7"/>
<text x="468.0" y="266.52" class="nm">39</text>
<rect x="468.90" y="263.12" width="24.68" height="3.4" fill="#b2df8a"/>
<rect x="493.53" y="263.12" width="24.68" height="3.4" fill="#33a02c"/>
<rect x="518.17" y="263.12" width="24.68" height="3.4" fill="#fb9a99"/>
<rect x="290.9" y="268.40" width="21.6" height="4.1" rx="2.05" fill="#ddcfc4"/>
<rect x="314.1" y="268.40" width="21.6" height="4.1" rx="2.05" fill="#ddcfc4"/>
<rect x="337.3" y="268.40" width="21.6" height="4.1" rx="2.05" fill="#ddcfc4"/>
<rect x="360.5" y="268.40" width="21.6" height="4.1" rx="2.05" fill="#ddcfc4"/>
<rect x="383.7" y="268.40" width="21.6" height="4.1" rx="2.05" fill="#ddcfc4"/>
<rect x="406.9" y="268.40" width="21.6" height="4.1" rx="2.05" fill="#8dcf94"/>
<text x="440.0" y="272.15" class="nm">12</text>
<rect x="441.4" y="268.75" width="10.1" height="3.4" fill="#d3e5f7"/>
<text x="468.0" y="272.15" class="nm">36</text>
<rect x="468.90" y="268.75" width="73.95" height="3.4" fill="#e31a1c"/>
<rect x="290.9" y="274.02" width="21.6" height="4.1" rx="2.05" fill="#8dcf94"/>
<rect x="314.1" y="274.02" width="21.6" height="4.1" rx="2.05" fill="#8dcf94"/>
<rect x="337.3" y="274.02" width="21.6" height="4.1" rx="2.05" fill="#8dcf94"/>
<rect x="360.5" y="274.02" width="21.6" height="4.1" rx="2.05" fill="#8dcf94"/>
<rect x="383.7" y="274.02" width="21.6" height="4.1" rx="2.05" fill="#ddcfc4"/>
<rect x="406.9" y="274.02" width="21.6" height="4.1" rx="2.05" fill="#ddcfc4"/>
<text x="440.0" y="277.77" class="nm">10</text>
<rect x="441.4" y="274.38" width="10.1" height="3.4" fill="#d3e5f7"/>
<text x="468.0" y="277.77" class="nm">40</text>
<rect x="468.90" y="274.38" width="18.53" height="3.4" fill="#a6cee3"/>
<rect x="487.38" y="274.38" width="18.52" height="3.4" fill="#1f78b4"/>
<rect x="505.85" y="274.38" width="18.52" height="3.4" fill="#b2df8a"/>
<rect x="524.32" y="274.38" width="18.53" height="3.4" fill="#33a02c"/>
<rect x="290.9" y="279.65" width="21.6" height="4.1" rx="2.05" fill="#8dcf94"/>
<rect x="314.1" y="279.65" width="21.6" height="4.1" rx="2.05" fill="#ddcfc4"/>
<rect x="337.3" y="279.65" width="21.6" height="4.1" rx="2.05" fill="#ddcfc4"/>
<rect x="360.5" y="279.65" width="21.6" height="4.1" rx="2.05" fill="#8dcf94"/>
<rect x="383.7" y="279.65" width="21.6" height="4.1" rx="2.05" fill="#ddcfc4"/>
<rect x="406.9" y="279.65" width="21.6" height="4.1" rx="2.05" fill="#8dcf94"/>
<text x="440.0" y="283.40" class="nm">10</text>
<rect x="441.4" y="280.00" width="10.1" height="3.4" fill="#d3e5f7"/>
<text x="468.0" y="283.40" class="nm">30</text>
<rect x="468.90" y="280.00" width="24.68" height="3.4" fill="#a6cee3"/>
<rect x="493.53" y="280.00" width="24.68" height="3.4" fill="#33a02c"/>
<rect x="518.17" y="280.00" width="24.68" height="3.4" fill="#e31a1c"/>
<rect x="290.9" y="285.27" width="21.6" height="4.1" rx="2.05" fill="#ddcfc4"/>
<rect x="314.1" y="285.27" width="21.6" height="4.1" rx="2.05" fill="#ddcfc4"/>
<rect x="337.3" y="285.27" width="21.6" height="4.1" rx="2.05" fill="#8dcf94"/>
<rect x="360.5" y="285.27" width="21.6" height="4.1" rx="2.05" fill="#ddcfc4"/>
<rect x="383.7" y="285.27" width="21.6" height="4.1" rx="2.05" fill="#8dcf94"/>
<rect x="406.9" y="285.27" width="21.6" height="4.1" rx="2.05" fill="#ddcfc4"/>
<text x="440.0" y="289.02" class="nm">10</text>
<rect x="441.4" y="285.62" width="10.1" height="3.4" fill="#d3e5f7"/>
<text x="468.0" y="289.02" class="nm">20</text>
<rect x="468.90" y="285.62" width="37.00" height="3.4" fill="#b2df8a"/>
<rect x="505.85" y="285.62" width="37.00" height="3.4" fill="#fb9a99"/>
<rect x="290.9" y="290.90" width="21.6" height="4.1" rx="2.05" fill="#8dcf94"/>
<rect x="314.1" y="290.90" width="21.6" height="4.1" rx="2.05" fill="#8dcf94"/>
<rect x="337.3" y="290.90" width="21.6" height="4.1" rx="2.05" fill="#8dcf94"/>
<rect x="360.5" y="290.90" width="21.6" height="4.1" rx="2.05" fill="#ddcfc4"/>
<rect x="383.7" y="290.90" width="21.6" height="4.1" rx="2.05" fill="#ddcfc4"/>
<rect x="406.9" y="290.90" width="21.6" height="4.1" rx="2.05" fill="#8dcf94"/>
<text x="440.0" y="294.65" class="nm">9</text>
<rect x="441.4" y="291.25" width="10.1" height="3.4" fill="#d3e5f7"/>
<text x="468.0" y="294.65" class="nm">36</text>
<rect x="468.90" y="291.25" width="18.53" height="3.4" fill="#a6cee3"/>
<rect x="487.38" y="291.25" width="18.52" height="3.4" fill="#1f78b4"/>
<rect x="505.85" y="291.25" width="18.52" height="3.4" fill="#b2df8a"/>
<rect x="524.32" y="291.25" width="18.53" height="3.4" fill="#e31a1c"/>
<rect x="290.9" y="296.52" width="21.6" height="4.1" rx="2.05" fill="#ddcfc4"/>
<rect x="314.1" y="296.52" width="21.6" height="4.1" rx="2.05" fill="#ddcfc4"/>
<rect x="337.3" y="296.52" width="21.6" height="4.1" rx="2.05" fill="#8dcf94"/>
<rect x="360.5" y="296.52" width="21.6" height="4.1" rx="2.05" fill="#ddcfc4"/>
<rect x="383.7" y="296.52" width="21.6" height="4.1" rx="2.05" fill="#8dcf94"/>
<rect x="406.9" y="296.52" width="21.6" height="4.1" rx="2.05" fill="#8dcf94"/>
<text x="440.0" y="300.27" class="nm">9</text>
<rect x="441.4" y="296.88" width="10.1" height="3.4" fill="#d3e5f7"/>
<text x="468.0" y="300.27" class="nm">27</text>
<rect x="468.90" y="296.88" width="24.68" height="3.4" fill="#b2df8a"/>
<rect x="493.53" y="296.88" width="24.68" height="3.4" fill="#fb9a99"/>
<rect x="518.17" y="296.88" width="24.68" height="3.4" fill="#e31a1c"/>
<rect x="290.9" y="302.15" width="21.6" height="4.1" rx="2.05" fill="#ddcfc4"/>
<rect x="314.1" y="302.15" width="21.6" height="4.1" rx="2.05" fill="#ddcfc4"/>
<rect x="337.3" y="302.15" width="21.6" height="4.1" rx="2.05" fill="#ddcfc4"/>
<rect x="360.5" y="302.15" width="21.6" height="4.1" rx="2.05" fill="#ddcfc4"/>
<rect x="383.7" y="302.15" width="21.6" height="4.1" rx="2.05" fill="#8dcf94"/>
<rect x="406.9" y="302.15" width="21.6" height="4.1" rx="2.05" fill="#ddcfc4"/>
<text x="440.0" y="305.90" class="nm">9</text>
<rect x="441.4" y="302.50" width="10.1" height="3.4" fill="#d3e5f7"/>
<text x="468.0" y="305.90" class="nm">18</text>
<rect x="468.90" y="302.50" width="73.95" height="3.4" fill="#fb9a99"/>
<rect x="290.9" y="307.77" width="21.6" height="4.1" rx="2.05" fill="#8dcf94"/>
<rect x="314.1" y="307.77" width="21.6" height="4.1" rx="2.05" fill="#ddcfc4"/>
<rect x="337.3" y="307.77" width="21.6" height="4.1" rx="2.05" fill="#8dcf94"/>
<rect x="360.5" y="307.77" width="21.6" height="4.1" rx="2.05" fill="#8dcf94"/>
<rect x="383.7" y="307.77" width="21.6" height="4.1" rx="2.05" fill="#ddcfc4"/>
<rect x="406.9" y="307.77" width="21.6" height="4.1" rx="2.05" fill="#8dcf94"/>
<text x="440.0" y="311.52" class="nm">7</text>
<rect x="441.4" y="308.12" width="10.1" height="3.4" fill="#d3e5f7"/>
<text x="468.0" y="311.52" class="nm">28</text>
<rect x="468.90" y="308.12" width="18.53" height="3.4" fill="#a6cee3"/>
<rect x="487.38" y="308.12" width="18.52" height="3.4" fill="#b2df8a"/>
<rect x="505.85" y="308.12" width="18.52" height="3.4" fill="#33a02c"/>
<rect x="524.32" y="308.12" width="18.53" height="3.4" fill="#e31a1c"/>
<rect x="290.9" y="313.40" width="21.6" height="4.1" rx="2.05" fill="#ddcfc4"/>
<rect x="314.1" y="313.40" width="21.6" height="4.1" rx="2.05" fill="#ddcfc4"/>
<rect x="337.3" y="313.40" width="21.6" height="4.1" rx="2.05" fill="#ddcfc4"/>
<rect x="360.5" y="313.40" width="21.6" height="4.1" rx="2.05" fill="#8dcf94"/>
<rect x="383.7" y="313.40" width="21.6" height="4.1" rx="2.05" fill="#ddcfc4"/>
<rect x="406.9" y="313.40" width="21.6" height="4.1" rx="2.05" fill="#8dcf94"/>
<text x="440.0" y="317.15" class="nm">7</text>
<rect x="441.4" y="313.75" width="10.1" height="3.4" fill="#d3e5f7"/>
<text x="468.0" y="317.15" class="nm">14</text>
<rect x="468.90" y="313.75" width="37.00" height="3.4" fill="#33a02c"/>
<rect x="505.85" y="313.75" width="37.00" height="3.4" fill="#e31a1c"/>
<rect x="290.9" y="319.02" width="21.6" height="4.1" rx="2.05" fill="#8dcf94"/>
<rect x="314.1" y="319.02" width="21.6" height="4.1" rx="2.05" fill="#ddcfc4"/>
<rect x="337.3" y="319.02" width="21.6" height="4.1" rx="2.05" fill="#8dcf94"/>
<rect x="360.5" y="319.02" width="21.6" height="4.1" rx="2.05" fill="#ddcfc4"/>
<rect x="383.7" y="319.02" width="21.6" height="4.1" rx="2.05" fill="#ddcfc4"/>
<rect x="406.9" y="319.02" width="21.6" height="4.1" rx="2.05" fill="#ddcfc4"/>
<text x="440.0" y="322.77" class="nm">6</text>
<rect x="441.4" y="319.38" width="10.1" height="3.4" fill="#d3e5f7"/>
<text x="468.0" y="322.77" class="nm">12</text>
<rect x="468.90" y="319.38" width="37.00" height="3.4" fill="#a6cee3"/>
<rect x="505.85" y="319.38" width="37.00" height="3.4" fill="#b2df8a"/>
<rect x="290.9" y="324.65" width="21.6" height="4.1" rx="2.05" fill="#ddcfc4"/>
<rect x="314.1" y="324.65" width="21.6" height="4.1" rx="2.05" fill="#ddcfc4"/>
<rect x="337.3" y="324.65" width="21.6" height="4.1" rx="2.05" fill="#8dcf94"/>
<rect x="360.5" y="324.65" width="21.6" height="4.1" rx="2.05" fill="#8dcf94"/>
<rect x="383.7" y="324.65" width="21.6" height="4.1" rx="2.05" fill="#ddcfc4"/>
<rect x="406.9" y="324.65" width="21.6" height="4.1" rx="2.05" fill="#ddcfc4"/>
<text x="440.0" y="328.40" class="nm">5</text>
<rect x="441.4" y="325.00" width="10.1" height="3.4" fill="#d3e5f7"/>
<text x="468.0" y="328.40" class="nm">10</text>
<rect x="468.90" y="325.00" width="37.00" height="3.4" fill="#b2df8a"/>
<rect x="505.85" y="325.00" width="37.00" height="3.4" fill="#33a02c"/>
<rect x="290.9" y="330.27" width="21.6" height="4.1" rx="2.05" fill="#8dcf94"/>
<rect x="314.1" y="330.27" width="21.6" height="4.1" rx="2.05" fill="#ddcfc4"/>
<rect x="337.3" y="330.27" width="21.6" height="4.1" rx="2.05" fill="#ddcfc4"/>
<rect x="360.5" y="330.27" width="21.6" height="4.1" rx="2.05" fill="#ddcfc4"/>
<rect x="383.7" y="330.27" width="21.6" height="4.1" rx="2.05" fill="#ddcfc4"/>
<rect x="406.9" y="330.27" width="21.6" height="4.1" rx="2.05" fill="#ddcfc4"/>
<text x="440.0" y="334.02" class="nm">4</text>
<rect x="441.4" y="330.62" width="10.1" height="3.4" fill="#d3e5f7"/>
<text x="468.0" y="334.02" class="nm">16</text>
<rect x="468.90" y="330.62" width="73.95" height="3.4" fill="#a6cee3"/>
<rect x="290.9" y="335.90" width="21.6" height="4.1" rx="2.05" fill="#ddcfc4"/>
<rect x="314.1" y="335.90" width="21.6" height="4.1" rx="2.05" fill="#ddcfc4"/>
<rect x="337.3" y="335.90" width="21.6" height="4.1" rx="2.05" fill="#8dcf94"/>
<rect x="360.5" y="335.90" width="21.6" height="4.1" rx="2.05" fill="#8dcf94"/>
<rect x="383.7" y="335.90" width="21.6" height="4.1" rx="2.05" fill="#ddcfc4"/>
<rect x="406.9" y="335.90" width="21.6" height="4.1" rx="2.05" fill="#8dcf94"/>
<text x="440.0" y="339.65" class="nm">4</text>
<rect x="441.4" y="336.25" width="10.1" height="3.4" fill="#d3e5f7"/>
<text x="468.0" y="339.65" class="nm">12</text>
<rect x="468.90" y="336.25" width="24.68" height="3.4" fill="#b2df8a"/>
<rect x="493.53" y="336.25" width="24.68" height="3.4" fill="#33a02c"/>
<rect x="518.17" y="336.25" width="24.68" height="3.4" fill="#e31a1c"/>
<rect x="290.9" y="341.52" width="21.6" height="4.1" rx="2.05" fill="#ddcfc4"/>
<rect x="314.1" y="341.52" width="21.6" height="4.1" rx="2.05" fill="#8dcf94"/>
<rect x="337.3" y="341.52" width="21.6" height="4.1" rx="2.05" fill="#8dcf94"/>
<rect x="360.5" y="341.52" width="21.6" height="4.1" rx="2.05" fill="#ddcfc4"/>
<rect x="383.7" y="341.52" width="21.6" height="4.1" rx="2.05" fill="#ddcfc4"/>
<rect x="406.9" y="341.52" width="21.6" height="4.1" rx="2.05" fill="#8dcf94"/>
<text x="440.0" y="345.27" class="nm">4</text>
<rect x="441.4" y="341.88" width="10.1" height="3.4" fill="#d3e5f7"/>
<text x="468.0" y="345.27" class="nm">12</text>
<rect x="468.90" y="341.88" width="24.68" height="3.4" fill="#1f78b4"/>
<rect x="493.53" y="341.88" width="24.68" height="3.4" fill="#b2df8a"/>
<rect x="518.17" y="341.88" width="24.68" height="3.4" fill="#e31a1c"/>
<rect x="290.9" y="347.15" width="21.6" height="4.1" rx="2.05" fill="#8dcf94"/>
<rect x="314.1" y="347.15" width="21.6" height="4.1" rx="2.05" fill="#ddcfc4"/>
<rect x="337.3" y="347.15" width="21.6" height="4.1" rx="2.05" fill="#8dcf94"/>
<rect x="360.5" y="347.15" width="21.6" height="4.1" rx="2.05" fill="#8dcf94"/>
<rect x="383.7" y="347.15" width="21.6" height="4.1" rx="2.05" fill="#ddcfc4"/>
<rect x="406.9" y="347.15" width="21.6" height="4.1" rx="2.05" fill="#ddcfc4"/>
<text x="440.0" y="350.90" class="nm">4</text>
<rect x="441.4" y="347.50" width="10.1" height="3.4" fill="#d3e5f7"/>
<text x="468.0" y="350.90" class="nm">12</text>
<rect x="468.90" y="347.50" width="24.68" height="3.4" fill="#a6cee3"/>
<rect x="493.53" y="347.50" width="24.68" height="3.4" fill="#b2df8a"/>
<rect x="518.17" y="347.50" width="24.68" height="3.4" fill="#33a02c"/>
<rect x="290.9" y="352.77" width="21.6" height="4.1" rx="2.05" fill="#8dcf94"/>
<rect x="314.1" y="352.77" width="21.6" height="4.1" rx="2.05" fill="#8dcf94"/>
<rect x="337.3" y="352.77" width="21.6" height="4.1" rx="2.05" fill="#8dcf94"/>
<rect x="360.5" y="352.77" width="21.6" height="4.1" rx="2.05" fill="#ddcfc4"/>
<rect x="383.7" y="352.77" width="21.6" height="4.1" rx="2.05" fill="#ddcfc4"/>
<rect x="406.9" y="352.77" width="21.6" height="4.1" rx="2.05" fill="#ddcfc4"/>
<text x="440.0" y="356.52" class="nm">3</text>
<rect x="441.4" y="353.12" width="10.1" height="3.4" fill="#d3e5f7"/>
<text x="468.0" y="356.52" class="nm">9</text>
<rect x="468.90" y="353.12" width="24.68" height="3.4" fill="#a6cee3"/>
<rect x="493.53" y="353.12" width="24.68" height="3.4" fill="#1f78b4"/>
<rect x="518.17" y="353.12" width="24.68" height="3.4" fill="#b2df8a"/>
<rect x="290.9" y="358.40" width="21.6" height="4.1" rx="2.05" fill="#ddcfc4"/>
<rect x="314.1" y="358.40" width="21.6" height="4.1" rx="2.05" fill="#8dcf94"/>
<rect x="337.3" y="358.40" width="21.6" height="4.1" rx="2.05" fill="#8dcf94"/>
<rect x="360.5" y="358.40" width="21.6" height="4.1" rx="2.05" fill="#ddcfc4"/>
<rect x="383.7" y="358.40" width="21.6" height="4.1" rx="2.05" fill="#8dcf94"/>
<rect x="406.9" y="358.40" width="21.6" height="4.1" rx="2.05" fill="#ddcfc4"/>
<text x="440.0" y="362.15" class="nm">2</text>
<rect x="441.4" y="358.75" width="10.1" height="3.4" fill="#d3e5f7"/>
<text x="468.0" y="362.15" class="nm">6</text>
<rect x="468.90" y="358.75" width="24.68" height="3.4" fill="#1f78b4"/>
<rect x="493.53" y="358.75" width="24.68" height="3.4" fill="#b2df8a"/>
<rect x="518.17" y="358.75" width="24.68" height="3.4" fill="#fb9a99"/>
<rect x="290.9" y="364.02" width="21.6" height="4.1" rx="2.05" fill="#ddcfc4"/>
<rect x="314.1" y="364.02" width="21.6" height="4.1" rx="2.05" fill="#8dcf94"/>
<rect x="337.3" y="364.02" width="21.6" height="4.1" rx="2.05" fill="#8dcf94"/>
<rect x="360.5" y="364.02" width="21.6" height="4.1" rx="2.05" fill="#ddcfc4"/>
<rect x="383.7" y="364.02" width="21.6" height="4.1" rx="2.05" fill="#ddcfc4"/>
<rect x="406.9" y="364.02" width="21.6" height="4.1" rx="2.05" fill="#ddcfc4"/>
<text x="440.0" y="367.77" class="nm">2</text>
<rect x="441.4" y="364.38" width="10.1" height="3.4" fill="#d3e5f7"/>
<text x="468.0" y="367.77" class="nm">4</text>
<rect x="468.90" y="364.38" width="37.00" height="3.4" fill="#1f78b4"/>
<rect x="505.85" y="364.38" width="37.00" height="3.4" fill="#b2df8a"/>
<rect x="290.9" y="369.65" width="21.6" height="4.1" rx="2.05" fill="#ddcfc4"/>
<rect x="314.1" y="369.65" width="21.6" height="4.1" rx="2.05" fill="#ddcfc4"/>
<rect x="337.3" y="369.65" width="21.6" height="4.1" rx="2.05" fill="#8dcf94"/>
<rect x="360.5" y="369.65" width="21.6" height="4.1" rx="2.05" fill="#ddcfc4"/>
<rect x="383.7" y="369.65" width="21.6" height="4.1" rx="2.05" fill="#ddcfc4"/>
<rect x="406.9" y="369.65" width="21.6" height="4.1" rx="2.05" fill="#ddcfc4"/>
<text x="440.0" y="373.40" class="nm">2</text>
<rect x="441.4" y="370.00" width="10.1" height="3.4" fill="#d3e5f7"/>
<text x="468.0" y="373.40" class="nm">5</text>
<rect x="468.90" y="370.00" width="73.95" height="3.4" fill="#b2df8a"/>
<rect x="290.9" y="375.27" width="21.6" height="4.1" rx="2.05" fill="#ddcfc4"/>
<rect x="314.1" y="375.27" width="21.6" height="4.1" rx="2.05" fill="#ddcfc4"/>
<rect x="337.3" y="375.27" width="21.6" height="4.1" rx="2.05" fill="#ddcfc4"/>
<rect x="360.5" y="375.27" width="21.6" height="4.1" rx="2.05" fill="#8dcf94"/>
<rect x="383.7" y="375.27" width="21.6" height="4.1" rx="2.05" fill="#ddcfc4"/>
<rect x="406.9" y="375.27" width="21.6" height="4.1" rx="2.05" fill="#ddcfc4"/>
<text x="440.0" y="379.02" class="nm">1</text>
<rect x="441.4" y="375.62" width="10.1" height="3.4" fill="#d3e5f7"/>
<text x="468.0" y="379.02" class="nm">2</text>
<rect x="468.90" y="375.62" width="73.95" height="3.4" fill="#33a02c"/>
<circle cx="291.2" cy="385.4" r="1.7" fill="#a6cee3"/>
<text x="294.0" y="387.0" class="lg">ASM285</text>
<circle cx="319.2" cy="385.4" r="1.7" fill="#1f78b4"/>
<text x="322.0" y="387.0" class="lg">ASPNI</text>
<circle cx="347.2" cy="385.4" r="1.7" fill="#b2df8a"/>
<text x="350.0" y="387.0" class="lg">ASM1515</text>
<circle cx="375.2" cy="385.4" r="1.7" fill="#33a02c"/>
<text x="378.0" y="387.0" class="lg">A_niger_N420</text>
<circle cx="403.2" cy="385.4" r="1.7" fill="#fb9a99"/>
<text x="406.0" y="387.0" class="lg">CSR3</text>
<circle cx="431.2" cy="385.4" r="1.7" fill="#e31a1c"/>
<text x="434.0" y="387.0" class="lg">neoniger</text>
</svg></body></html>
